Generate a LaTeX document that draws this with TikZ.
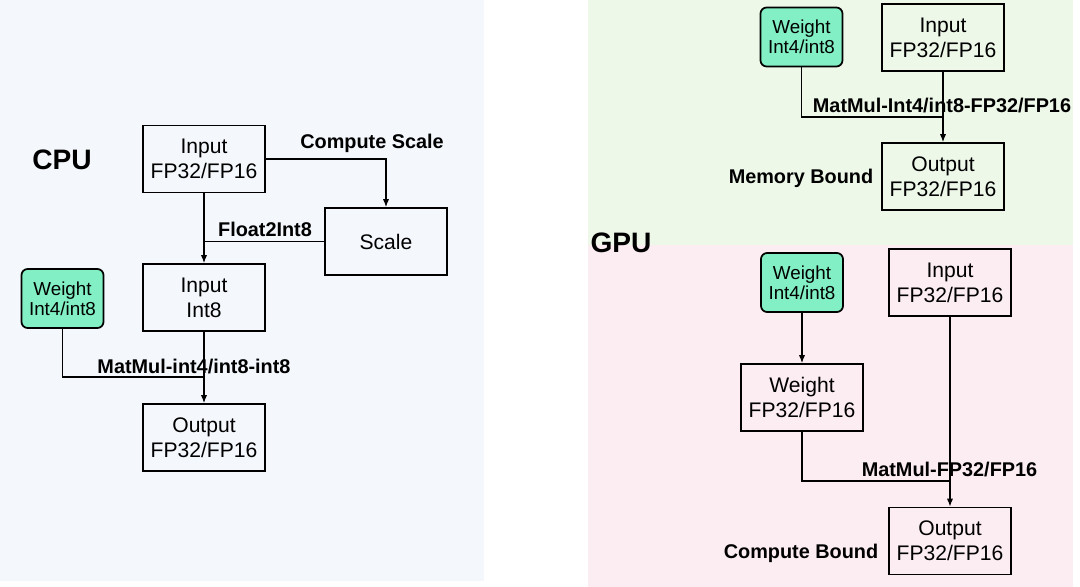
\documentclass[tikz,border=0pt]{standalone}
\usepackage{fontspec}
\setmainfont{Liberation Sans}
\usetikzlibrary{arrows.meta}
\definecolor{cpubg}{RGB}{244,248,253}
\definecolor{memorybg}{RGB}{237,248,233}
\definecolor{computebg}{RGB}{252,237,243}
\definecolor{mint}{RGB}{130,240,196}
\tikzset{
    box/.style={draw, line width=1pt, minimum width=2.44cm, minimum height=1.34cm,
        inner sep=0pt, align=center, font=\fontsize{12}{14.2}\selectfont},
    wbox/.style={draw, line width=1pt, rounded corners=3.5pt, fill=mint,
        minimum width=1.64cm, minimum height=1.18cm, inner sep=0pt, align=center,
        font=\fontsize{10.7}{11.4}\selectfont},
    lbl/.style={font=\bfseries\fontsize{11.3}{13}\selectfont},
    ttl/.style={font=\bfseries\fontsize{16}{19}\selectfont},
    wire/.style={line width=0.6pt}
}
\begin{document}
\begin{tikzpicture}[x=0.02cm, y=-0.02cm, >={Latex[length=4.5pt,width=3.5pt]}]
    \useasboundingbox (0,0) rectangle (1080,587);

    % Panels
    \fill[cpubg] (0,0) rectangle (484,581);
    \fill[memorybg] (588,0) rectangle (1073,245);
    \fill[computebg] (588,245) rectangle (1073,587);

    % CPU
    \node[ttl] (cpu) at (62,160) {CPU};
    \node[box] (cpuin) at (204,159) {Input\\FP32/FP16};
    \node[box] (scale) at (386,241.5) {Scale};
    \node[box] (cpuint) at (204,297.5) {Input\\Int8};
    \node[wbox] (cpuwgt) at (62.5,298.5) {Weight\\Int4/int8};
    \node[box] (cpuout) at (204,437.5) {Output\\FP32/FP16};
    \coordinate (qjoin) at (cpuin.south |- scale.west);
    \coordinate (cpujoin) at (204,377);

    \draw[wire, ->] (cpuin.east) -| (scale.north);
    \draw[wire] (scale.west) -- (qjoin);
    \draw[wire, ->] (cpuin) -- (cpuint);
    \draw[wire] (cpuwgt.south) |- (cpujoin);
    \draw[wire, ->] (cpuint) -- (cpuout);
    \node[lbl] (cslbl) at (372,143) {Compute Scale};
    \node[lbl] (f2i) at (265,229) {Float2Int8};
    \node[lbl] (cpumm) at (194,367) {MatMul-int4/int8-int8};

    % GPU, memory bound
    \node[ttl] (gpu) at (621,243) {GPU};
    \node[wbox] (memwgt) at (801.5,37) {Weight\\Int4/int8};
    \node[box] (memin) at (943,37.5) {Input\\FP32/FP16};
    \node[box] (memout) at (943,176.5) {Output\\FP32/FP16};
    \coordinate (memjoin) at (943,117);
    \draw[wire] (memwgt.south) |- (memjoin);
    \draw[wire, ->] (memin) -- (memout);
    \node[lbl] (memmm) at (942,106) {MatMul-Int4/int8-FP32/FP16};
    \node[lbl] (memlbl) at (801,178) {Memory Bound};

    % GPU, compute bound
    \node[wbox] (cmpwgt) at (802,282.5) {Weight\\Int4/int8};
    \node[box] (cmpin) at (950,282.5) {Input\\FP32/FP16};
    \node[box] (cmpfp) at (802,397.5) {Weight\\FP32/FP16};
    \node[box] (cmpout) at (950,541) {Output\\FP32/FP16};
    \coordinate (cmpjoin) at (950,481);
    \draw[wire, ->] (cmpwgt) -- (cmpfp);
    \draw[wire] (cmpfp.south) |- (cmpjoin);
    \draw[wire, ->] (cmpin) -- (cmpout);
    \node[lbl] (cmpmm) at (949.5,470) {MatMul-FP32/FP16};
    \node[lbl] (cmplbl) at (801,553) {Compute Bound};
\end{tikzpicture}
\end{document}
